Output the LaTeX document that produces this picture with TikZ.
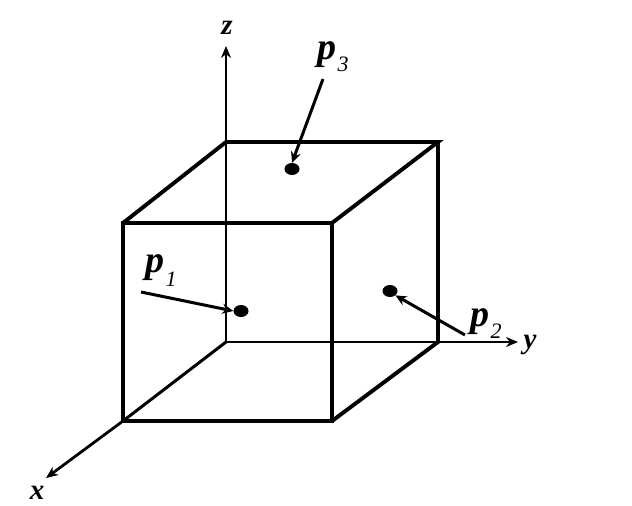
\documentclass[tikz,border=0pt]{standalone}
\usepackage{fontspec}
\setmainfont{Liberation Serif}
\usetikzlibrary{arrows.meta,shapes.geometric}
\tikzset{
  x=1pt,y=-1pt,
  edge/.style={line width=3.9pt,line cap=round,line join=miter},
  thin edge/.style={line width=3pt},
  axis/.style={line width=2.8pt,-{Stealth[length=12pt,width=10pt]}},
  lead/.style={line width=3pt,-{Stealth[length=11pt,width=10pt]}},
  dot/.style={ellipse,fill=black,inner sep=0pt,minimum width=15pt,minimum height=12pt},
  axlabel/.style={inner sep=0pt,font=\fontsize{29}{29}\selectfont\bfseries\itshape},
  plabel/.style={inner sep=0pt,font=\fontsize{38}{38}\selectfont\bfseries\itshape},
  sub/.style={inner sep=0pt,font=\fontsize{22}{22}\selectfont\itshape},
}
\begin{document}
\begin{tikzpicture}
\useasboundingbox (0,0) rectangle (632,506);
\fill[white] (0,0) rectangle (632,506);
\coordinate (O) at (226,342);
\coordinate (T) at (226,142);
\coordinate (TR) at (438,142);
\coordinate (BR) at (438,342);
\coordinate (A) at (123,223);
\coordinate (B) at (332,223);
\coordinate (C) at (332,421);
\coordinate (D) at (123,421);
\coordinate (Zend) at (226,46);
\coordinate (Yend) at (518,342);
\coordinate (Xend) at (46,478);
\coordinate (l1) at (141,292);
\coordinate (l2) at (465,335);
\coordinate (l3) at (323,79);
\node[dot] (p1) at (241,311) {};
\node[dot] (p2) at (390,291) {};
\node[dot] (p3) at (292,169) {};
\draw[axis] (O) -- (Zend);
\draw[axis] (O) -- (Yend);
\draw[axis] (D) -- (Xend);
\draw[thin edge] (O) -- (D);
\draw[edge] (A) -- (B) -- (C) -- (D) -- cycle;
\draw[edge] (A) -- (T) -- (TR) -- (B);
\draw[edge] (TR) -- (BR) -- (C);
\draw[lead] (l1) -- (p1.west);
\draw[lead] (l2) -- (p2.south east);
\draw[lead] (l3) -- (p3.north);
\node[axlabel] (zl) at (227,28) {z};
\node[axlabel] (yl) at (530,345) {y};
\node[axlabel] (xl) at (37,493) {x};
\node[plabel] (P1) at (155,268) {p};
\node[sub] at (171,279) {1};
\node[plabel] (P2) at (480,322) {p};
\node[sub] at (496,331) {2};
\node[plabel] (P3) at (327,55) {p};
\node[sub] at (343,64) {3};
\end{tikzpicture}
\end{document}
